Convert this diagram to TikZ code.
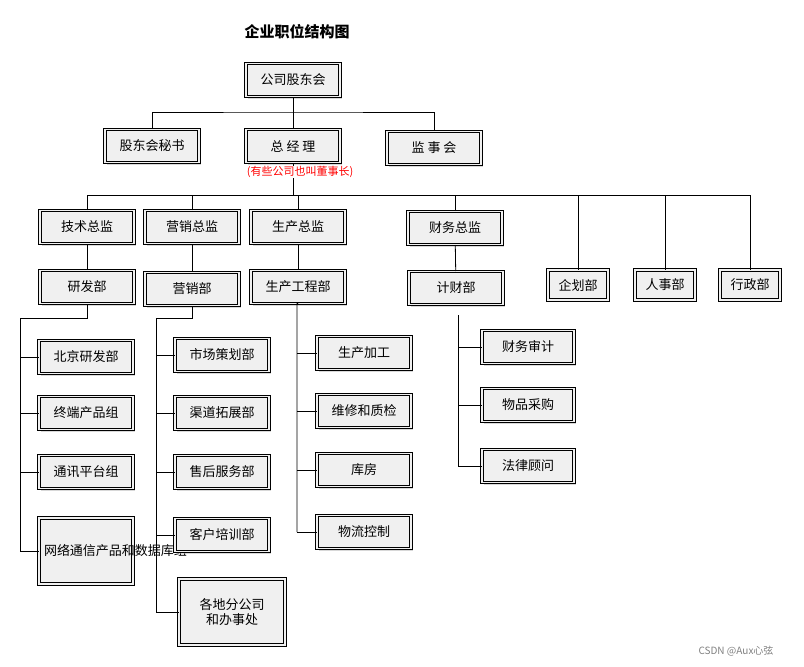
\documentclass[tikz,border=0pt]{standalone}
\usepackage{fontspec}
\setmainfont{Noto Sans CJK SC}
\usetikzlibrary{shadows, positioning}
\tikzset{
  box/.style = {draw = black, double = gray!12, double distance = 1.6pt, line width = 1pt, fill = gray!12,
    drop shadow = {shadow xshift = 2pt, shadow yshift = -2pt, fill = gray!60}, minimum width = 94, minimum height = 33,
    inner sep = 1pt, font = \fontsize{13}{15}\selectfont, align = center},
  sbox/.style = {box, minimum width = 60, minimum height = 30},
  link/.style = {draw = black, line width = 0.8pt}
}
\begin{document}
\begin{tikzpicture}[x = 1pt, y = -1pt]
\useasboundingbox (0,0) rectangle (804,667);
\node[font = \bfseries\fontsize{15}{17}\selectfont] (title) at (297,32) {企业职位结构图};
% top levels
\node[box] (gd) at (293,80) {公司股东会};
\node[box] (ms) at (152,146) {股东会秘书};
\node[box] (zj) at (293,146) {总\ 经\ 理};
\node[box] (js) at (434,148) {监\ 事\ 会};
\coordinate (t1) at (293,112);
\coordinate (t2) at (293,195);
% directors
\node[box] (jszj) at (87,227) {技术总监};
\node[box] (yxzj) at (192,227) {营销总监};
\node[box] (sczj) at (298,227) {生产总监};
\node[box] (cwzj) at (455,228) {财务总监};
\node[box] (yfb) at (87,287) {研发部};
\node[box] (yxb) at (192,289) {营销部};
\node[box] (scb) at (298,287) {生产工程部};
\node[box] (jcb) at (456,288) {计财部};
\node[sbox] (qhb) at (578,285) {企划部};
\node[sbox] (rsb) at (665,285) {人事部};
\node[sbox] (xzb) at (750,285) {行政部};
% column 1
\node[box] (bj) at (86,357) {北京研发部};
\node[box] (zd) at (86,413) {终端产品组};
\node[box] (tx) at (86,472) {通讯平台组};
\node[box, minimum height = 66, text width = 84, align = left] (wl) at (86,551) {网络通信产品和数据库组};
% column 2
\node[box] (sc) at (222,355) {市场策划部};
\node[box] (qd) at (222,413) {渠道拓展部};
\node[box] (sh) at (222,472) {售后服务部};
\node[box] (kh) at (222,535) {客户培训部};
\node[box, minimum width = 106, minimum height = 66] (gd2) at (232,612) {各地分公司\\和办事处};
% column 3
\node[box] (jg) at (364,353) {生产加工};
\node[box] (wx) at (364,411) {维修和质检};
\node[box] (kf) at (364,470) {库房};
\node[box] (wlk) at (364,532) {物流控制};
% column 4
\node[box, minimum width = 92] (sj) at (528,347) {财务审计};
\node[box, minimum width = 92] (cg) at (528,405) {物品采购};
\node[box, minimum width = 92] (fl) at (528,466) {法律顾问};
\coordinate (c1) at (20,318);
\coordinate (c2) at (156,318);
\coordinate (c3) at (297,303);
\coordinate (c4) at (458,315);
\begin{scope}[on background layer/.style = {}]
\draw[link] (gd) -- (zj);
\draw[link] (ms.north) |- (t1) -| (js.north);
\draw[link] (zj) -- (t2);
\draw[link] (jszj.north) |- (xzb.north |- t2) -- (xzb.north);
\foreach \n in {yxzj, sczj, cwzj, qhb, rsb}
  \draw[link] (\n.north) -- (\n.north |- t2);
\foreach \a/\b in {jszj/yfb, yxzj/yxb, sczj/scb, cwzj/jcb}
  \draw[link] (\a) -- (\b);
\draw[link] (yfb.south) |- (c1) -- (c1 |- wl.west);
\foreach \n in {bj, zd, tx, wl}
  \draw[link] (c1 |- \n.west) -- (\n.west);
\draw[link] (yxb.south) |- (c2) -- (c2 |- gd2.west);
\foreach \n in {sc, qd, sh, kh, gd2}
  \draw[link] (c2 |- \n.west) -- (\n.west);
\draw[link] (scb.south) -- (c3) -- (c3 |- wlk.west);
\foreach \n in {jg, wx, kf, wlk}
  \draw[link] (c3 |- \n.west) -- (\n.west);
\draw[link] (c4) -- (c4 |- fl.west);
\foreach \n in {sj, cg, fl}
  \draw[link] (c4 |- \n.west) -- (\n.west);
\end{scope}
\node[text = red, font = \fontsize{11}{13}\selectfont, fill = white, inner sep = 0pt] (note) at (300,172) {(有些公司也叫董事长)};
\node[text = gray, font = \fontsize{10}{12}\selectfont] (mark) at (736,651) {CSDN @Aux心弦};
\end{tikzpicture}
\end{document}
